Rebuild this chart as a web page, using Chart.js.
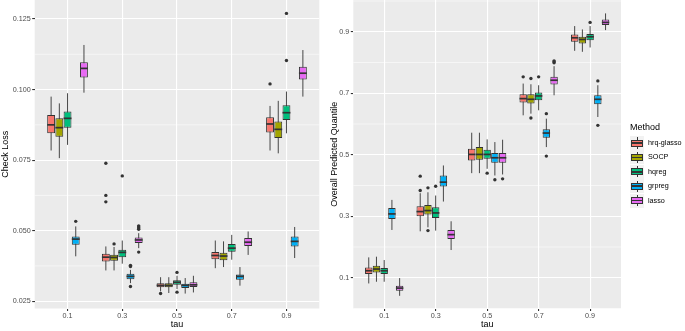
<!DOCTYPE html>
<html>
<head>
<meta charset="utf-8">
<script src="https://cdn.jsdelivr.net/npm/chart.js@4.4.1/dist/chart.umd.min.js"></script>
<style>
  body { margin: 0; background: #fff; width: 685px; height: 331px; overflow: hidden; position: relative; font-family: 'Liberation Sans', Arial, sans-serif; }
  #left { position: absolute; left: 0; top: 0; width: 330px; height: 331px; }
  #right { position: absolute; left: 329px; top: 0; width: 356px; height: 331px; }
  #legend { position: absolute; left: 630px; top: 120px; }
  #legend .title { font-size: 9px; color: #000; height: 14px; line-height: 14px; margin-bottom: 2px; }
  #legend .row { position: relative; height: 14.4px; }
  #legend .key { position: absolute; left: 0; top: 0; width: 14px; height: 14px; background: #F2F2F2; }
  #legend .whisk { position: absolute; left: 6.5px; top: 1.4px; width: 1px; height: 11.2px; background: #333; }
  #legend .box { position: absolute; left: 1.4px; top: 3.5px; width: 11.2px; height: 7px; box-sizing: border-box; border: 1px solid #333; }
  #legend .med { position: absolute; left: 1.4px; top: 6.2px; width: 11.2px; height: 1.6px; background: #333; }
  #legend .lab { position: absolute; left: 18px; top: 0; line-height: 14px; font-size: 7.2px; color: #000; white-space: nowrap; }
</style>
</head>
<body>
<div id="left"><canvas id="lossChart"></canvas></div>
<div id="right"><canvas id="quantChart"></canvas></div>
<div id="legend"></div>
<script>
const taus = ['0.1', '0.3', '0.5', '0.7', '0.9'];
const methods = ['hrq-glasso', 'SOCP', 'hqreg', 'grpreg', 'lasso'];
const colors = ['#F8766D', '#A3A500', '#00BF7D', '#00B0F6', '#E76BF3'];

// Check Loss: one row per method, one value per tau
const lossLow = [
  [0.0784, 0.0359, 0.0285, 0.0367, 0.0784],
  [0.0757, 0.0359, 0.0279, 0.0371, 0.0774],
  [0.0804, 0.0383, 0.0293, 0.0397, 0.0845],
  [0.0409, 0.0314, 0.0277, 0.0305, 0.0403],
  [0.0989, 0.0438, 0.0281, 0.0414, 0.0975]
];
const lossQ1 = [
  [0.0845, 0.0391, 0.0299, 0.0399, 0.0848],
  [0.0833, 0.0393, 0.0299, 0.0395, 0.0828],
  [0.0865, 0.0406, 0.0308, 0.0425, 0.0892],
  [0.0450, 0.0328, 0.0297, 0.0326, 0.0444],
  [0.1043, 0.0456, 0.0300, 0.0446, 0.1036]
];
const lossMed = [
  [0.0875, 0.0406, 0.0306, 0.0412, 0.0878],
  [0.0865, 0.0405, 0.0306, 0.0410, 0.0859],
  [0.0898, 0.0423, 0.0317, 0.0438, 0.0918],
  [0.0470, 0.0338, 0.0306, 0.0338, 0.0462],
  [0.1075, 0.0467, 0.0308, 0.0459, 0.1058]
];
const lossQ3 = [
  [0.0910, 0.0418, 0.0314, 0.0424, 0.0902],
  [0.0898, 0.0415, 0.0314, 0.0422, 0.0887],
  [0.0922, 0.0432, 0.0324, 0.0453, 0.0944],
  [0.0479, 0.0347, 0.0312, 0.0345, 0.0479],
  [0.1097, 0.0476, 0.0317, 0.0474, 0.1081]
];
const lossHigh = [
  [0.0975, 0.0444, 0.0335, 0.0465, 0.0942],
  [0.0951, 0.0442, 0.0335, 0.0462, 0.0960],
  [0.0987, 0.0465, 0.0340, 0.0485, 0.0993],
  [0.0515, 0.0361, 0.0332, 0.0371, 0.0513],
  [0.1158, 0.0491, 0.0340, 0.0497, 0.1140]
];
const lossOut = [
  [[], [0.0739, 0.0625, 0.0602], [0.0277], [], [0.1020]],
  [[], [0.0453], [], [], []],
  [[], [0.0694], [0.0352, 0.0282], [], [0.1270, 0.1103]],
  [[0.0533], [0.0377, 0.0373, 0.0302], [], [], []],
  [[], [0.0517, 0.0513, 0.0509, 0.0505, 0.0424], [], [], []]
];
const lossTicks = [0.025, 0.050, 0.075, 0.100, 0.125];

// Overall Predicted Quantile
const qLow = [
  [0.0815, 0.2510, 0.4402, 0.6283, 0.8380],
  [0.0870, 0.2640, 0.4402, 0.6337, 0.8348],
  [0.0870, 0.2533, 0.4543, 0.6446, 0.8489],
  [0.2554, 0.3478, 0.4326, 0.5250, 0.6228],
  [0.0413, 0.1902, 0.4359, 0.6935, 0.9054]
];
const qQ1 = [
  [0.1119, 0.3000, 0.4815, 0.6696, 0.8674],
  [0.1174, 0.3054, 0.4837, 0.6663, 0.8620],
  [0.1119, 0.2945, 0.4869, 0.6772, 0.8728],
  [0.2913, 0.3967, 0.4739, 0.5554, 0.6641],
  [0.0576, 0.2260, 0.4739, 0.7283, 0.9217]
];
const qMed = [
  [0.1228, 0.3152, 0.5011, 0.6826, 0.8804],
  [0.1283, 0.3185, 0.5011, 0.6804, 0.8750],
  [0.1228, 0.3108, 0.5011, 0.6913, 0.8837],
  [0.3076, 0.4109, 0.4902, 0.5706, 0.6804],
  [0.0663, 0.2402, 0.4902, 0.7424, 0.9304]
];
const qQ3 = [
  [0.1337, 0.3326, 0.5196, 0.6967, 0.8913],
  [0.1390, 0.3370, 0.5250, 0.6967, 0.8837],
  [0.1315, 0.3293, 0.5163, 0.7022, 0.8924],
  [0.3271, 0.4326, 0.5054, 0.5826, 0.6935],
  [0.0739, 0.2554, 0.5054, 0.7533, 0.9402]
];
const qHigh = [
  [0.1663, 0.3750, 0.5717, 0.7315, 0.9185],
  [0.1685, 0.3780, 0.5717, 0.7293, 0.9076],
  [0.1576, 0.3674, 0.5500, 0.7261, 0.9185],
  [0.3532, 0.4652, 0.5413, 0.6174, 0.7261],
  [0.0989, 0.2837, 0.5489, 0.7880, 0.9598]
];
const qOut = [
  [[], [0.4304, 0.3837], [], [0.7533], []],
  [[], [0.3924, 0.2533], [], [0.7478, 0.6196], []],
  [[], [0.3978], [0.4402], [0.7533], [0.9304]],
  [[], [], [0.4185], [0.6337, 0.4957], [0.7402, 0.5957]],
  [[], [], [0.4217], [0.8054, 0.8022, 0.7989], []]
];
const qTicks = [0.1, 0.3, 0.5, 0.7, 0.9];

const INK = '#333333';

// panel background, minor grid, whiskers, medians and outliers
const boxPlugin = {
  id: 'boxes',
  beforeDraw(chart) {
    const a = chart.chartArea, ctx = chart.ctx;
    ctx.save();
    ctx.fillStyle = '#EBEBEB';
    ctx.fillRect(a.left, a.top, a.right - a.left, a.bottom - a.top);
    ctx.restore();
  },
  beforeDatasetsDraw(chart, args, opts) {
    const a = chart.chartArea, ctx = chart.ctx, y = chart.scales.y;
    const t = opts.ticks, step = t[1] - t[0];
    ctx.save();
    ctx.strokeStyle = '#fff';
    ctx.lineWidth = 0.55;
    for (let v = t[0] - step / 2; v <= y.max; v += step) {
      if (v < y.min) continue;
      const py = y.getPixelForValue(v);
      ctx.beginPath(); ctx.moveTo(a.left, py); ctx.lineTo(a.right, py); ctx.stroke();
    }
    ctx.strokeStyle = INK;
    ctx.lineWidth = 0.9;
    chart.data.datasets.forEach((ds, k) => {
      chart.getDatasetMeta(k).data.forEach((el, i) => {
        ctx.beginPath();
        ctx.moveTo(el.x, y.getPixelForValue(opts.low[k][i]));
        ctx.lineTo(el.x, y.getPixelForValue(opts.high[k][i]));
        ctx.stroke();
      });
    });
    ctx.restore();
  },
  afterDatasetsDraw(chart, args, opts) {
    const ctx = chart.ctx, y = chart.scales.y;
    ctx.save();
    ctx.strokeStyle = INK;
    ctx.fillStyle = INK;
    ctx.lineWidth = 1.7;
    chart.data.datasets.forEach((ds, k) => {
      chart.getDatasetMeta(k).data.forEach((el, i) => {
        const py = y.getPixelForValue(opts.med[k][i]);
        ctx.beginPath();
        ctx.moveTo(el.x - el.width / 2, py);
        ctx.lineTo(el.x + el.width / 2, py);
        ctx.stroke();
        opts.out[k][i].forEach(v => {
          ctx.beginPath();
          ctx.arc(el.x, y.getPixelForValue(v), 1.7, 0, Math.PI * 2);
          ctx.fill();
        });
      });
    });
    ctx.restore();
  }
};

function boxChart(id, q1, q3, stats, yRange, yTicks, digits, yTitle, yWidth, rightPad) {
  const datasets = methods.map((m, k) => ({
    label: m,
    data: taus.map((t, i) => ({ x: i, y: [q1[k][i], q3[k][i]] })),
    backgroundColor: colors[k],
    borderColor: INK,
    borderWidth: 1,
    borderSkipped: false,
    categoryPercentage: 0.75,
    barPercentage: 0.96
  }));
  return new Chart(document.getElementById(id), {
    type: 'bar',
    data: { datasets },
    plugins: [boxPlugin],
    options: {
      responsive: true,
      maintainAspectRatio: false,
      animation: false,
      layout: { padding: { left: 0, top: 0, bottom: 0, right: rightPad } },
      plugins: {
        legend: { display: false },
        tooltip: { enabled: false },
        boxes: Object.assign({ ticks: yTicks }, stats)
      },
      scales: {
        x: {
          type: 'linear',
          min: -0.6,
          max: 4.6,
          offset: false,
          grid: { offset: false, color: '#fff', lineWidth: 1.1, tickColor: INK, tickLength: 2.5 },
          border: { display: false },
          ticks: {
            stepSize: 1, includeBounds: false, autoSkip: false, maxRotation: 0,
            padding: 1, color: '#4D4D4D',
            font: { family: 'Liberation Sans', size: 7.2 },
            callback: v => taus[v] !== undefined ? taus[v] : ''
          },
          title: { display: true, text: 'tau', color: '#000', padding: { top: 0, bottom: 1.2 },
            font: { family: 'Liberation Sans', size: 9 } },
          afterFit: s => { s.height = 22.5; s.paddingLeft = 0; s.paddingRight = 0; }
        },
        y: {
          min: yRange[0],
          max: yRange[1],
          afterBuildTicks: s => { s.ticks = yTicks.map(v => ({ value: v })); },
          grid: { color: '#fff', lineWidth: 1.1, tickColor: INK, tickLength: 2.5 },
          border: { display: false },
          ticks: {
            padding: 1.5, color: '#4D4D4D',
            font: { family: 'Liberation Sans', size: 7.2 },
            callback: v => Number(v).toFixed(digits)
          },
          title: { display: true, text: yTitle, color: '#000', padding: { top: 0, bottom: 0 },
            font: { family: 'Liberation Sans', size: 9 } },
          afterFit: s => { s.width = yWidth; s.paddingTop = 0; s.paddingBottom = 0; }
        }
      }
    }
  });
}

boxChart('lossChart', lossQ1, lossQ3,
  { low: lossLow, med: lossMed, high: lossHigh, out: lossOut },
  [0.02241, 0.13174], lossTicks, 3, 'Check Loss', 34.7, 10.7);

boxChart('quantChart', qQ1, qQ3,
  { low: qLow, med: qMed, high: qHigh, out: qOut },
  [0.0, 1.0033], qTicks, 1, 'Overall Predicted Quantile', 24.3, 64);

// legend, ggplot style boxplot keys
const legend = document.getElementById('legend');
legend.innerHTML = '<div class="title">Method</div>' + methods.map((m, k) =>
  '<div class="row"><div class="key"><div class="whisk"></div>' +
  '<div class="box" style="background:' + colors[k] + '"></div><div class="med"></div></div>' +
  '<div class="lab">' + m + '</div></div>').join('');
</script>
</body>
</html>
